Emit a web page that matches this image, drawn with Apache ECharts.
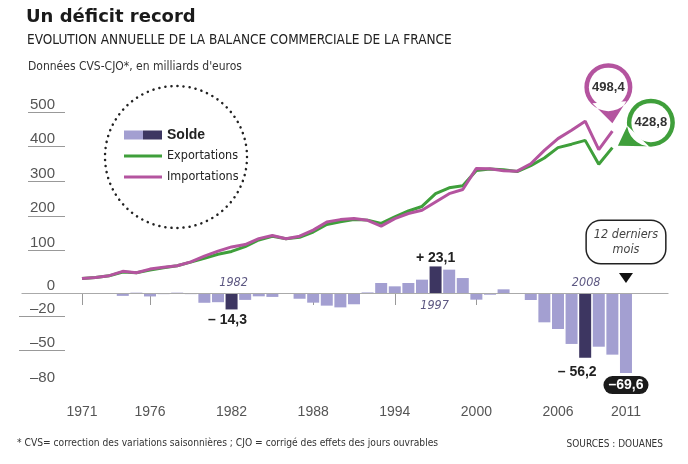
<!DOCTYPE html>
<html lang="fr">
<head>
<meta charset="UTF-8">
<title>Un déficit record</title>
<script src="https://cdn.jsdelivr.net/npm/echarts@6.0.0/dist/echarts.min.js"></script>
</head>
<body style="margin:0;padding:0;background:#fff;">
<div id="main" style="width:688px;height:464px;"></div>
<script>
// years of the two lines (annual) and of the bars (2011 = 12 derniers mois)
var lineYears = [1971, 1972, 1973, 1974, 1975, 1976, 1977, 1978, 1979, 1980,
  1981, 1982, 1983, 1984, 1985, 1986, 1987, 1988, 1989, 1990,
  1991, 1992, 1993, 1994, 1995, 1996, 1997, 1998, 1999, 2000,
  2001, 2002, 2003, 2004, 2005, 2006, 2007, 2008, 2009, 2010];
var exportations = [18.5, 21.5, 26.5, 37.5, 35.5, 43, 50, 55.6, 66, 77,
  89, 97, 111, 130, 141, 133.5, 138, 153, 175, 183,
  189, 187.5, 178, 197, 214, 227, 264, 281, 287, 331,
  335, 333, 328, 345, 367, 397, 407, 418, 349, 397];
var importations = [19, 22, 27, 39.5, 35.5, 46, 51, 55.6, 67, 83.6,
  98, 110, 117, 134, 143, 133.5, 141, 158.5, 182, 189,
  192, 187, 170, 192, 206.6, 216, 240, 264, 276, 337,
  336, 330, 329, 350.5, 389, 423, 447, 473.5, 391, 444.7];

var barYears = [1971, 1972, 1973, 1974, 1975, 1976, 1977, 1978, 1979, 1980,
  1981, 1982, 1983, 1984, 1985, 1986, 1987, 1988, 1989, 1990,
  1991, 1992, 1993, 1994, 1995, 1996, 1997, 1998, 1999, 2000,
  2001, 2002, 2003, 2004, 2005, 2006, 2007, 2008, 2009, 2010, 2011];
var solde = [-0.5, -0.4, -0.5, -2.5, 0.3, -3, -1, 0.3, -1, -8.5,
  -8, -14.3, -6, -2.9, -3.4, -0.3, -5, -8.4, -11, -12.5,
  -9.8, 0.5, 8.7, 5.8, 8.7, 11.6, 23.1, 20.3, 13, -5.8,
  -1.5, 3.2, -0.5, -6.1, -25.5, -31.3, -44.3, -56.2, -46.7, -53.6, -69.6];
var highlightYears = [1982, 1997, 2008];

// 12 derniers mois
var lastImport = 498.4;
var lastExport = 428.8;

var xTicks = [1971, 1976, 1982, 1988, 1994, 2000, 2006, 2011];
var yTicksTop = [100, 200, 300, 400, 500];
var yLabelsBottom = [0, -20, -50, -80];
var yTicksBottom = [-20, -50];

var narrow = "'Liberation Sans Narrow', 'DejaVu Sans Condensed', 'Liberation Sans', sans-serif";
var sans = "'Liberation Sans', Arial, sans-serif";
var light = '#a39fd1';
var dark = '#3d3661';
var green = '#3f9f3b';
var magenta = '#b4549f';

function fmt(v) {
  return (v < 0 ? '– ' : '+ ') + Math.abs(v).toFixed(1).replace('.', ',');
}
function dec(v) {
  return v.toFixed(1).replace('.', ',');
}

var barData = barYears.map(function (y, i) {
  var item = {
    value: [y, solde[i]],
    itemStyle: { color: highlightYears.indexOf(y) >= 0 ? dark : light }
  };
  if (y === 1982) {
    item.label = { show: true, position: 'bottom', distance: 4, offset: [-4, 0], formatter: fmt(solde[i]) };
  } else if (y === 1997) {
    item.label = { show: true, position: 'top', distance: 1, formatter: fmt(solde[i]) };
  } else if (y === 2008) {
    item.label = { show: true, position: 'bottom', distance: 8, offset: [-8, 0], formatter: fmt(solde[i]) };
  } else if (y === 2011) {
    item.label = {
      show: true, position: 'bottom', distance: 3, formatter: '–' + dec(Math.abs(solde[i])),
      color: '#fff', backgroundColor: '#1b1b1b', borderRadius: 9, padding: [2, 5]
    };
  }
  return item;
});

var yearLabel = {
  show: true, fontFamily: narrow, fontStyle: 'italic', fontSize: 12.5, color: '#5d5882'
};

var chart = echarts.init(document.getElementById('main'));
var option = {
  animation: false,
  title: [
    { text: 'Un déficit record', left: 26, top: 8, padding: 0,
      textStyle: { fontFamily: 'DejaVu Sans', fontWeight: 'bold', fontSize: 18, color: '#1a1a1a' } },
    { text: 'EVOLUTION ANNUELLE DE LA BALANCE COMMERCIALE DE LA FRANCE', left: 27, top: 33, padding: 0,
      textStyle: { fontFamily: narrow, fontWeight: 'normal', fontSize: 13.5, color: '#222' } },
    { text: "Données CVS-CJO*, en milliards d'euros", left: 28, top: 61, padding: 0,
      textStyle: { fontFamily: narrow, fontWeight: 'normal', fontSize: 12, color: '#333' } },
    { text: '* CVS= correction des variations saisonnières ; CJO = corrigé des effets des jours ouvrables',
      left: 17, top: 438, padding: 0,
      textStyle: { fontFamily: narrow, fontWeight: 'normal', fontSize: 10.2, color: '#333' } },
    { text: 'SOURCES : DOUANES', right: 25, top: 439, padding: 0,
      textStyle: { fontFamily: narrow, fontWeight: 'normal', fontSize: 10, color: '#333' } }
  ],
  legend: {
    orient: 'vertical', left: 119, top: 122, itemWidth: 38, itemHeight: 9, itemGap: 5,
    selectedMode: false, symbolKeepAspect: true,
    textStyle: { fontFamily: narrow, fontSize: 12.5, color: '#222', lineHeight: 16 },
    data: [
      { name: 'Solde', icon: 'rect', textStyle: { fontFamily: sans, fontWeight: 'bold', fontSize: 14, color: '#222' } },
      { name: 'Exportations', icon: 'path://M0,0L40,0L40,3L0,3Z' },
      { name: 'Importations', icon: 'path://M0,0L40,0L40,3L0,3Z' }
    ]
  },
  graphic: [{
    type: 'circle', shape: { cx: 176, cy: 157, r: 71 }, silent: true,
    style: { fill: 'none', stroke: '#222', lineWidth: 2.5, lineDash: [0.1, 6], lineCap: 'round' }
  }],
  grid: [
    { left: 22, right: 20, top: 112, height: 173 },
    { left: 22, right: 20, top: 247, bottom: 79 }
  ],
  xAxis: [
    { gridIndex: 0, type: 'value', min: 1966.59, max: 2014.09, show: false },
    { gridIndex: 1, type: 'value', min: 1966.59, max: 2014.09,
      splitLine: { show: false },
      axisLine: { show: true, lineStyle: { color: '#999', width: 1 } },
      axisTick: { show: true, customValues: xTicks, length: 12, lineStyle: { color: '#999' } },
      axisLabel: { customValues: xTicks, margin: 20, fontFamily: sans, fontSize: 14, color: '#555',
        formatter: function (v) { return String(v); } } }
  ],
  yAxis: [
    { gridIndex: 0, type: 'value', min: 0, max: 500, offset: -43,
      splitLine: { show: false }, axisLine: { show: false },
      axisTick: { show: true, customValues: yTicksTop, length: 37, lineStyle: { color: '#999' } },
      axisLabel: { customValues: yTicksTop, margin: 10, verticalAlign: 'bottom', fontFamily: sans,
        fontSize: 15, color: '#555' } },
    { gridIndex: 1, type: 'value', min: -80, max: 40, offset: -43,
      splitLine: { show: false }, axisLine: { show: false },
      axisTick: { show: true, customValues: yTicksBottom, length: 46, lineStyle: { color: '#999' } },
      axisLabel: { customValues: yLabelsBottom, margin: 10, verticalAlign: 'bottom', fontFamily: sans,
        fontSize: 15, color: '#555',
        formatter: function (v) { return v < 0 ? '–' + Math.abs(v) : String(v); } } }
  ],
  series: [
    {
      name: 'Solde', type: 'bar', xAxisIndex: 1, yAxisIndex: 1, barWidth: 12,
      itemStyle: {
        color: { type: 'linear', x: 0, y: 0, x2: 1, y2: 0, colorStops: [
          { offset: 0, color: light }, { offset: 0.5, color: light },
          { offset: 0.5, color: dark }, { offset: 1, color: dark }] }
      },
      label: { show: false, fontFamily: sans, fontWeight: 'bold', fontSize: 14, color: '#222' },
      data: barData,
      markLine: {
        silent: true, symbol: 'none', label: { show: false },
        lineStyle: { color: '#aaa', type: 'solid', width: 1 },
        data: [{ yAxis: 0 }]
      },
      markPoint: {
        silent: true,
        data: [
          { coord: [1982, 0], symbolSize: 0, label: Object.assign({ formatter: '1982', offset: [2, -10] }, yearLabel) },
          { coord: [1997, 0], symbolSize: 0, label: Object.assign({ formatter: '1997', offset: [-1, 13] }, yearLabel) },
          { coord: [2008, 0], symbolSize: 0, label: Object.assign({ formatter: '2008', offset: [1, -10] }, yearLabel) },
          { coord: [2011, 0], symbol: 'triangle', symbolRotate: 180, symbolSize: [14, 10], symbolOffset: [0, -15],
            itemStyle: { color: '#111' }, label: { show: false } },
          { coord: [2011, 0], symbolSize: 0,
            label: { show: true, formatter: '12 derniers\nmois', offset: [0, -51], backgroundColor: '#fff',
              borderColor: '#222', borderWidth: 1.5, borderRadius: 14, padding: [6, 7],
              fontFamily: narrow, fontStyle: 'italic', fontSize: 12.5, lineHeight: 15, color: '#444' } }
        ]
      }
    },
    {
      name: 'Exportations', type: 'line', xAxisIndex: 0, yAxisIndex: 0, symbol: 'none',
      lineStyle: { width: 3, color: green }, itemStyle: { color: green },
      data: lineYears.map(function (y, i) { return [y, exportations[i]]; }),
      markPoint: {
        silent: true,
        data: [
          { coord: [2010, exportations[exportations.length - 1]],
            symbol: 'path://M16,24A24,24,0,1,1,64,24A24,24,0,1,1,16,24ZM16.5,27L7,47L38,47.5Z',
            symbolSize: [57, 48], symbolOffset: [34, -25], itemStyle: { color: green }, label: { show: false } },
          { coord: [2010, exportations[exportations.length - 1]], symbol: 'circle', symbolSize: 39,
            symbolOffset: [38.5, -25], itemStyle: { color: '#fff' },
            label: { show: true, formatter: dec(lastExport), fontFamily: sans, fontWeight: 'bold', fontSize: 13, color: '#333' } }
        ]
      }
    },
    {
      name: 'Importations', type: 'line', xAxisIndex: 0, yAxisIndex: 0, symbol: 'none',
      lineStyle: { width: 3, color: magenta }, itemStyle: { color: magenta },
      data: lineYears.map(function (y, i) { return [y, importations[i]]; }),
      markPoint: {
        silent: true,
        data: [
          { coord: [2010, importations[importations.length - 1]],
            symbol: 'path://M0,24A24,24,0,1,1,48,24A24,24,0,1,1,0,24ZM8,40L28,60L42,38Z',
            symbolSize: [48, 60], symbolOffset: [-4, -38], itemStyle: { color: magenta }, label: { show: false } },
          { coord: [2010, importations[importations.length - 1]], symbol: 'circle', symbolSize: 39,
            symbolOffset: [-4, -44], itemStyle: { color: '#fff' },
            label: { show: true, formatter: dec(lastImport), fontFamily: sans, fontWeight: 'bold', fontSize: 13, color: '#333' } }
        ]
      }
    }
  ]
};
chart.setOption(option);
</script>
</body>
</html>
